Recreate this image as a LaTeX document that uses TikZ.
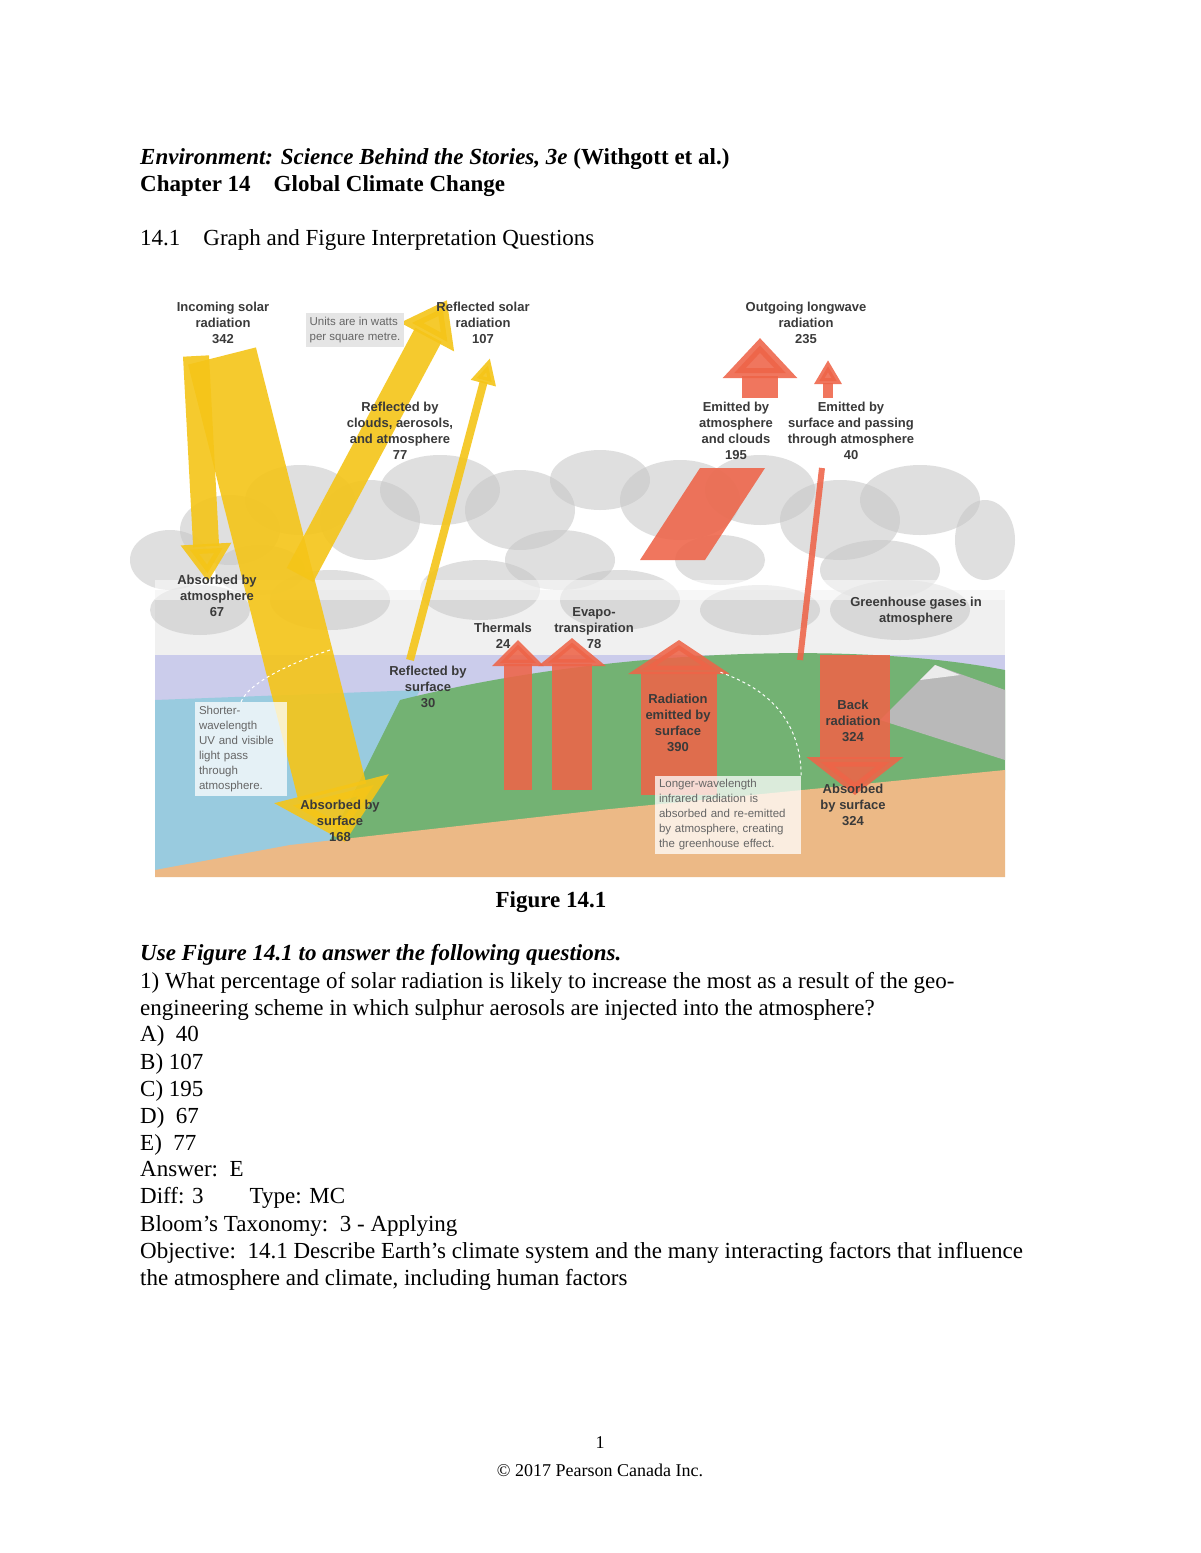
\documentclass[tikz,border=0pt]{standalone}
\usepackage{fontspec}
\setmainfont{Liberation Serif}
\newfontfamily\lsans{Liberation Sans}
\usetikzlibrary{arrows.meta}
\definecolor{sunyel}{HTML}{F5C518}
\definecolor{heatred}{HTML}{EE6448}
\definecolor{labtxt}{HTML}{3A3A3A}
\tikzset{
 ptext/.style={anchor=base west,inner sep=0pt,font=\fontsize{23}{27}\selectfont},
 lab/.style={align=center,inner sep=0pt,text=labtxt,font=\lsans\bfseries\fontsize{13}{16}\selectfont},
 infobox/.style={align=left,inner sep=4pt,text=gray!80!black,fill=white,fill opacity=0.75,text opacity=1,font=\lsans\fontsize{11.5}{15}\selectfont},
 yarrow/.style={draw=sunyel,opacity=0.9},
 rarrow/.style={draw=heatred,opacity=0.88},
 cloud/.style={fill=gray!45,opacity=0.55}
}
\begin{document}
\begin{tikzpicture}[x=1pt,y=-1pt]
\useasboundingbox (0,0) rectangle (1200,1553);
\fill[white] (0,0) rectangle (1200,1553);
% header text
\node[ptext] (h1) at (140,164) {\textbf{\textit{Environment: Science Behind the Stories, 3e}} \textbf{(Withgott et al.)}};
\node[ptext] (h2) at (140,191) {\textbf{Chapter 14\quad Global Climate Change}};
\node[ptext] (h3) at (140,245) {14.1\quad Graph and Figure Interpretation Questions};
% ---- scene ----
\fill[gray!12] (155,590) rectangle (1005,660);
\foreach \x/\y/\a/\b in {170/560/40/30,230/530/50/35,300/500/55/35,370/520/50/40,440/490/60/35,520/510/55/40,600/480/50/30,680/500/60/40,760/490/55/35,840/520/60/40,920/500/60/35,985/540/30/40,200/610/50/25,330/600/60/30,480/590/60/30,620/600/60/30,760/610/60/25,900/610/70/30,260/570/45/25,560/560/55/30,720/560/45/25,880/570/60/30}
 \fill[cloud] (\x,\y) ellipse ({\a pt} and {\b pt});
\fill[white,opacity=0.5] (155,580) rectangle (1005,600);
\fill[cyan!25!blue!20] (155,655) rectangle (1005,870);
\fill[cyan!45!teal!45] (155,700) -- (420,690) -- (330,860) -- (155,872) -- cycle;
\fill[green!45!black!55] (400,700) .. controls (600,650) and (850,640) .. (1005,670) -- (1005,790) -- (330,840) -- cycle;
\fill[gray!55] (880,720) -- (935,665) -- (1005,690) -- (1005,760) -- cycle;
\fill[white!85!gray] (920,680) -- (935,665) -- (960,675) -- cycle;
\fill[orange!45!brown!55] (290,845) -- (600,810) -- (1005,770) -- (1005,877) -- (155,877) -- (155,870) -- cycle;
% yellow arrows
\draw[yarrow,line width=70pt,-{Triangle[width=115pt,length=55pt]}] (222,356) -- (345,842);
\draw[yarrow,line width=26pt,-{Triangle[width=48pt,length=38pt]}] (196,356) -- (208,582);
\draw[yarrow,line width=30pt,-{Triangle[width=58pt,length=42pt]}] (300,575) -- (447,300);
\draw[yarrow,line width=8pt,-{Triangle[width=24pt,length=26pt]}] (410,660) -- (490,358);
% red arrows
\fill[heatred,opacity=0.88] (640,560) -- (705,560) -- (765,468) -- (700,468) -- cycle;
\draw[rarrow,line width=36pt,-{Triangle[width=72pt,length=40pt]}] (760,398) -- (760,338);
\draw[rarrow,line width=6pt] (800,660) -- (822,468);
\draw[rarrow,line width=10pt,-{Triangle[width=26pt,length=24pt]}] (828,398) -- (828,360);
\draw[rarrow,line width=28pt,-{Triangle[width=50pt,length=26pt]}] (518,790) -- (518,640);
\draw[rarrow,line width=40pt,-{Triangle[width=66pt,length=28pt]}] (572,790) -- (572,638);
\draw[rarrow,line width=76pt,-{Triangle[width=100pt,length=34pt]}] (679,795) -- (679,640);
\draw[rarrow,line width=70pt,-{Triangle[width=95pt,length=38pt]}] (855,655) -- (855,795);
% info boxes
\node[infobox,fill=gray!20,fill opacity=1] (units) at (355,330) {Units are in watts\\per square metre.};
\draw[white,dashed,line width=1pt] (258,328) -- (units.west);
\node[infobox,text width=84pt] (short) at (241,749) {Shorter-\\wavelength\\UV and visible\\light pass\\through\\atmosphere.};
\draw[white,dashed,line width=1pt] (short.north) .. controls (250,680) and (300,660) .. (330,650);
\node[infobox,text width=138pt] (long) at (728,815) {Longer-wavelength\\infrared radiation is\\absorbed and re-emitted\\by atmosphere, creating\\the greenhouse effect.};
\draw[white,dashed,line width=1pt] (long.north east) .. controls (800,700) and (740,680) .. (720,672);
% labels
\node[lab] (l1) at (223,323) {Incoming solar\\radiation\\342};
\node[lab] (l2) at (483,323) {Reflected solar\\radiation\\107};
\node[lab] (l3) at (806,323) {Outgoing longwave\\radiation\\235};
\node[lab] (l4) at (400,431) {Reflected by\\clouds, aerosols,\\and atmosphere\\77};
\node[lab] (l5) at (736,431) {Emitted by\\atmosphere\\and clouds\\195};
\node[lab] (l6) at (851,431) {Emitted by\\surface and passing\\through atmosphere\\40};
\node[lab] (l7) at (217,596) {Absorbed by\\atmosphere\\67};
\node[lab] (l8) at (916,611) {Greenhouse gases in\\atmosphere};
\node[lab] (l9) at (503,636) {Thermals\\24};
\node[lab] (l10) at (594,628) {Evapo-\\transpiration\\78};
\node[lab] (l11) at (428,687) {Reflected by\\surface\\30};
\node[lab] (l12) at (678,723) {Radiation\\emitted by\\surface\\390};
\node[lab] (l13) at (853,721) {Back\\radiation\\324};
\node[lab] (l14) at (853,805) {Absorbed\\by surface\\324};
\node[lab] (l15) at (340,821) {Absorbed by\\surface\\168};
% caption and questions
\node[ptext,anchor=base] (cap) at (551,907) {\textbf{Figure 14.1}};
\node[ptext] (q0) at (140,960) {\textbf{\textit{Use Figure 14.1 to answer the following questions.}}};
\node[ptext] (q1) at (140,988) {1) What percentage of solar radiation is likely to increase the most as a result of the geo-};
\node[ptext] (q2) at (140,1015) {engineering scheme in which sulphur aerosols are injected into the atmosphere?};
\node[ptext] (q3) at (140,1041) {A)\ \ 40};
\node[ptext] (q4) at (140,1069) {B) 107};
\node[ptext] (q5) at (140,1096) {C) 195};
\node[ptext] (q6) at (140,1123) {D)\ \ 67};
\node[ptext] (q7) at (140,1150) {E)\ \ 77};
\node[ptext] (q8) at (140,1176) {Answer:\ \ E};
\node[ptext] (q9) at (140,1203) {Diff: 3\qquad Type: MC};
\node[ptext] (q10) at (140,1231) {Bloom's Taxonomy:\ \ 3 - Applying};
\node[ptext] (q11) at (140,1258) {Objective:\ \ 14.1 Describe Earth's climate system and the many interacting factors that influence};
\node[ptext] (q12) at (140,1285) {the atmosphere and climate, including human factors};
\node[ptext,anchor=base,font=\fontsize{18}{22}\selectfont] (pg) at (600,1448) {1};
\node[ptext,anchor=base,font=\fontsize{18}{22}\selectfont] (cp) at (600,1476) {© 2017 Pearson Canada Inc.};
\end{tikzpicture}
\end{document}
